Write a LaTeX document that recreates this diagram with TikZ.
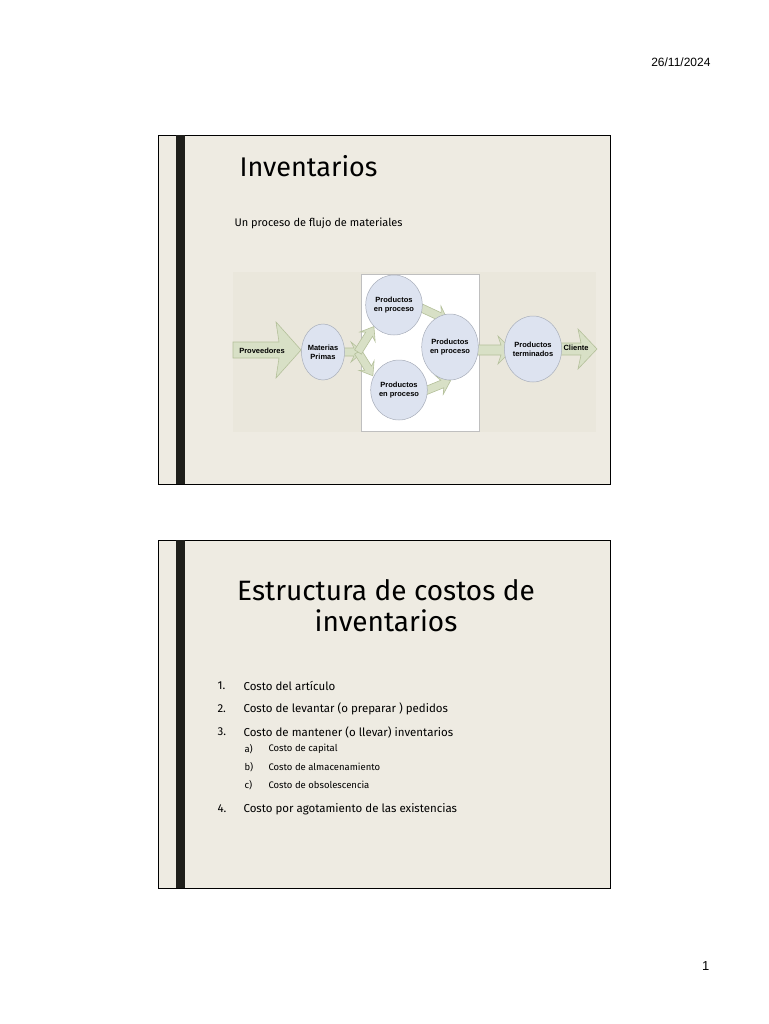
\documentclass[tikz,border=0pt]{standalone}
\usepackage{fontspec}
\setmainfont{Fira Sans}
\newfontfamily\arial{Liberation Sans}
\usetikzlibrary{shapes.geometric}
\definecolor{slidebg}{HTML}{EEEBE2}
\definecolor{diagbg}{HTML}{EAE7DC}
\definecolor{bar}{HTML}{1E1E1A}
\definecolor{agreen}{HTML}{D8E0C6}
\definecolor{agreenb}{HTML}{B4C09A}
\definecolor{ellfill}{HTML}{DDE3F0}
\definecolor{ellb}{HTML}{A8AEBA}
\newcommand\barrow[7]{% x y angle len shaft-halfwidth head-len head-halfwidth
\begin{scope}[shift={(#1,#2)},rotate=#3]
\draw[fill=agreen,draw=agreenb,line width=0.6pt] (0,-#5)--({#4-#6},-#5)--({#4-#6-3},-#7)--(#4,0)--({#4-#6-3},#7)--({#4-#6},#5)--(0,#5)--cycle;
\end{scope}}
\tikzset{ell/.style={ellipse,draw=ellb,fill=ellfill,line width=0.5pt,inner sep=0pt,font=\arial\bfseries\fontsize{7.5}{9}\selectfont,align=center},
slide/.style={draw=black,line width=0.8pt,fill=slidebg},
lst/.style={anchor=west,font=\fontsize{11.5}{13}\selectfont},
sub/.style={anchor=west,font=\fontsize{9.5}{11}\selectfont}}
\begin{document}
\begin{tikzpicture}[x=1pt,y=-1pt]
\useasboundingbox[fill=white] (0,0) rectangle (768,1024);
\node[anchor=east,font=\arial\fontsize{12}{14}\selectfont] (date) at (714,62) {26/11/2024};
\node[anchor=east,font=\arial\fontsize{13}{14}\selectfont] (page) at (713,966) {1};
% slide 1
\draw[slide] (158,135) rectangle (610,484);
\fill[bar] (176,135) rectangle (185,484);
\node[anchor=west,font=\fontsize{27}{30}\selectfont] (t1) at (236,166) {Inventarios};
\node[anchor=west,font=\fontsize{11}{13}\selectfont] (s1) at (231,223) {Un proceso de flujo de materiales};
\fill[diagbg] (233,272) rectangle (596,432);
\draw[fill=white,draw=gray!50,line width=0.4pt] (361,274) rectangle (479,431);
\barrow{233}{350}{0}{68}{8}{22}{28}
\node[font=\arial\bfseries\fontsize{7.5}{9}\selectfont] (prov) at (262,351) {Proveedores};
\barrow{341}{352}{0}{22}{4}{9}{10}
\barrow{358}{352}{-58}{28}{4}{9}{9}
\barrow{358}{352}{58}{30}{4}{9}{9}
\barrow{415}{305}{-25}{36}{4}{9}{10}
\barrow{420}{393}{22}{33}{4}{9}{10}
\barrow{472}{350}{0}{40}{5}{11}{14}
\barrow{554}{349}{0}{43}{6}{16}{20}
\node[font=\arial\bfseries\fontsize{7.5}{9}\selectfont] (cli) at (576,348) {Cliente};
\node[ell,minimum width=35pt,minimum height=56pt] (mp) at (323,352) {Materias\\Primas};
\node[ell,minimum width=44pt,minimum height=60pt] (p1) at (394,305) {Productos\\en proceso};
\node[ell,minimum width=46pt,minimum height=66pt] (p2) at (450,347) {Productos\\en proceso};
\node[ell,minimum width=44pt,minimum height=60pt] (p3) at (399,390) {Productos\\en proceso};
\node[ell,minimum width=46pt,minimum height=66pt] (pt) at (533,349) {Productos\\terminados};
% slide 2
\draw[slide] (158,540) rectangle (610,888);
\fill[bar] (176,540) rectangle (185,888);
\node[font=\fontsize{28}{31}\selectfont,align=center] (t2) at (386,606) {Estructura de costos de\\inventarios};
\foreach \n/\y/\t in {1./686/Costo del artículo,2./709/Costo de levantar (o preparar ) pedidos,3./732/Costo de mantener (o llevar) inventarios,4./809/Costo por agotamiento de las existencias}{
\node[lst] (n\n) at (214,\y) {\n};
\node[lst] (l\n) at (240,\y) {\t};}
\foreach \n/\y/\t in {a)/749/Costo de capital,b)/767/Costo de almacenamiento,c)/785/Costo de obsolescencia}{
\node[sub] (m\n) at (241,\y) {\n};
\node[sub] (k\n) at (265,\y) {\t};}
\end{tikzpicture}
\end{document}
